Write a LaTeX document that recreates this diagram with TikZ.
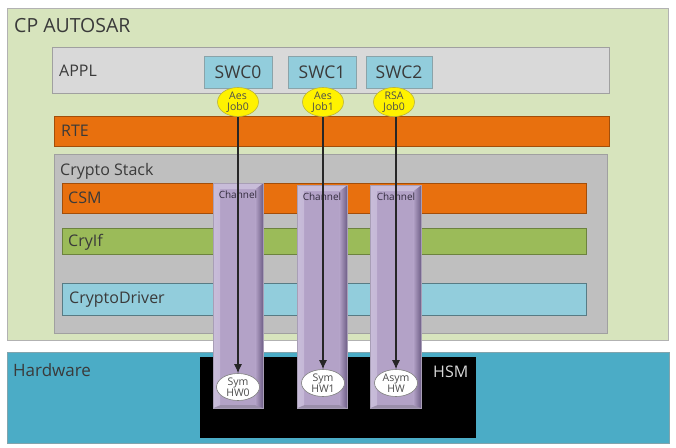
\documentclass[tikz,border=0pt]{standalone}
\usepackage{fontspec}
\setmainfont{Open Sans}
\usetikzlibrary{arrows.meta,shapes.geometric}
\definecolor{autosar}{HTML}{D7E4BD}
\definecolor{appl}{HTML}{D9D9D9}
\definecolor{swc}{HTML}{92CDDC}
\definecolor{rte}{HTML}{E8700E}
\definecolor{stack}{HTML}{BFBFBF}
\definecolor{cryif}{HTML}{9BBB59}
\definecolor{hw}{HTML}{4BACC6}
\definecolor{chan}{HTML}{B3A2C7}
\definecolor{chanlite}{HTML}{C8BCD9}
\definecolor{chandark}{HTML}{6E5E86}
\definecolor{txt}{HTML}{3A3A3A}
\definecolor{edge}{HTML}{A0A0A0}
\tikzset{
  box/.style={draw=edge, line width=0.9pt, inner sep=0pt, anchor=north west},
  lbl/.style={anchor=base west, inner sep=0pt, text=txt, font=\fontsize{16}{18}\selectfont},
  swcbox/.style={box, fill=swc, draw=swc!60!black!70, minimum width=68pt, minimum height=32pt,
    anchor=center, text=txt, font=\fontsize{17.5}{18}\selectfont},
  job/.style={ellipse, fill=yellow, draw=yellow!70!black, line width=0.6pt, minimum width=41pt,
    minimum height=26pt, inner sep=0pt, align=center, text=black!70,
    font=\fontsize{10.5}{11}\selectfont},
  hwjob/.style={ellipse, fill=white, draw=black!50, line width=0.6pt, minimum width=43pt,
    minimum height=27pt, inner sep=0pt, align=center, text=black!70,
    font=\fontsize{10.5}{11}\selectfont},
  chanbox/.style={draw=chandark!60, line width=0.4pt, fill=chan, inner sep=0pt, anchor=north west,
    minimum width=50pt,
    path picture={
      \shade[left color=chanlite, right color=chan]
        (path picture bounding box.north west) rectangle ([xshift=7pt]path picture bounding box.south west);
      \shade[left color=chan, right color=chandark]
        ([xshift=-8pt]path picture bounding box.north east) rectangle (path picture bounding box.south east);
      \fill[chanlite]
        (path picture bounding box.north west) -- (path picture bounding box.north east)
        -- ([xshift=-8pt,yshift=-6pt]path picture bounding box.north east)
        -- ([xshift=7pt,yshift=-6pt]path picture bounding box.north west) -- cycle;
      \fill[chandark!70]
        (path picture bounding box.south west) -- (path picture bounding box.south east)
        -- ([xshift=-8pt,yshift=3pt]path picture bounding box.south east)
        -- ([xshift=7pt,yshift=3pt]path picture bounding box.south west) -- cycle;
    }},
  chantxt/.style={anchor=base, inner sep=0pt, text=black!55!chandark, font=\fontsize{10}{10}\selectfont},
  arr/.style={draw=black!85, line width=1.1pt, -{Latex[length=9pt,width=8pt]}}
}
\begin{document}
\begin{tikzpicture}[x=1pt,y=-1pt]
\useasboundingbox[fill=white] (0,0) rectangle (676,447);

% CP AUTOSAR
\node[box, fill=autosar, draw=black!30, minimum width=661pt, minimum height=332pt] (cp) at (7,8) {};
\node[lbl, font=\fontsize{19.5}{22}\selectfont] (cptxt) at (14,32) {CP AUTOSAR};

% APPL
\node[box, fill=appl, minimum width=557pt, minimum height=46pt] (appl) at (52,47) {};
\node[lbl] (appltxt) at (59,76) {APPL};
\node[swcbox] (swc0) at (238,72) {SWC0};
\node[swcbox] (swc1) at (322,72) {SWC1};
\node[swcbox, minimum width=66pt] (swc2) at (399,72) {SWC2};

% RTE
\node[box, fill=rte, draw=rte!70!black, minimum width=555pt, minimum height=30pt] (rte) at (54,116) {};
\node[lbl] (rtetxt) at (61,136) {RTE};

% Crypto Stack
\node[box, fill=stack, minimum width=553pt, minimum height=179pt] (cs) at (54,154) {};
\node[lbl] (cstxt) at (60,175) {Crypto Stack};
\node[box, fill=rte, draw=rte!70!black, minimum width=524pt, minimum height=30pt] (csm) at (62,183) {};
\node[lbl] (csmtxt) at (68,203) {CSM};
\node[box, fill=cryif, draw=cryif!70!black, minimum width=524pt, minimum height=26pt] (cryif) at (62,228) {};
\node[lbl] (cryiftxt) at (68,246) {CryIf};
\node[box, fill=swc, draw=swc!60!black, minimum width=524pt, minimum height=32pt] (drv) at (62,283) {};
\node[lbl] (drvtxt) at (69,303) {CryptoDriver};

% Hardware
\node[box, fill=hw, draw=hw!60!black!60, minimum width=662pt, minimum height=91pt] (hwbox) at (7,352) {};
\node[lbl, font=\fontsize{17}{19}\selectfont] (hwtxt) at (13,376) {Hardware};
\node[box, fill=black, draw=black, minimum width=275pt, minimum height=80pt] (hsm) at (200,357) {};
\node[lbl, text=black!15] (hsmtxt) at (433,377) {HSM};

% Channels
\node[chanbox, minimum height=225pt] (ch0) at (213,183) {};
\node[chanbox, minimum height=223pt] (ch1) at (297,185) {};
\node[chanbox, minimum height=223pt, minimum width=51pt] (ch2) at (370,185) {};
\node[chantxt] (ch0txt) at (238,198) {Channel};
\node[chantxt] (ch1txt) at (322,200) {Channel};
\node[chantxt] (ch2txt) at (396,200) {Channel};

% HW endpoints
\node[hwjob] (hw0) at (238,387) {Sym\\HW0};
\node[hwjob] (hw1) at (323,383) {Sym\\HW1};
\node[hwjob] (hw2) at (396,383) {Asym\\HW};

% Jobs
\node[job] (job0) at (238,102) {Aes\\Job0};
\node[job] (job1) at (323,102) {Aes\\Job1};
\node[job] (job2) at (394,102) {RSA\\Job0};

% Arrows
\draw[arr] (job0.south) -- (hw0.north);
\draw[arr] (job1.south) -- (hw1.north);
\draw[arr] (job2.south -| hw2.north) -- (hw2.north);
\end{tikzpicture}
\end{document}
